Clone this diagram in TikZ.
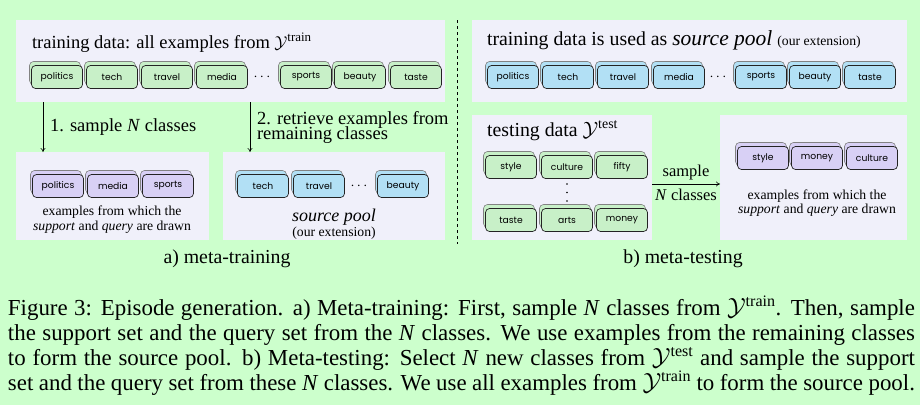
\documentclass[tikz,border=0pt]{standalone}
\usepackage{fontspec}
\setmainfont{Liberation Serif}
\newfontfamily\cardfont{Poppins}
\usetikzlibrary{shadows,arrows.meta}
\definecolor{bgc}{RGB}{204,255,204}
\definecolor{panelc}{RGB}{240,240,250}
\definecolor{gfill}{RGB}{200,240,200}
\definecolor{bfill}{RGB}{178,224,245}
\definecolor{pfill}{RGB}{216,208,245}
\definecolor{cardline}{RGB}{35,35,35}
\definecolor{shline}{RGB}{130,130,130}
\newcommand\fsTitle{\fontsize{18.5}{20}\selectfont}
\newcommand\fsBig{\fontsize{19.8}{21}\selectfont}
\newcommand\fsMid{\fontsize{18}{20}\selectfont}
\newcommand\fsArr{\fontsize{16.5}{18}\selectfont}
\newcommand\fsSmall{\fontsize{13.7}{15}\selectfont}
\newcommand\fsCap{\fontsize{22.9}{25}\selectfont}
\tikzset{
  panel/.style={fill=panelc, draw=none, inner sep=0pt, outer sep=0pt},
  card/.style={draw=cardline, line width=0.7pt, rounded corners=4pt,
    minimum width=51pt, minimum height=23pt, inner sep=0pt,
    font=\cardfont\fontsize{9.2}{11}\selectfont,
    copy shadow={shadow xshift=-2pt, shadow yshift=4pt, draw=shline, line width=0.6pt}},
  gcard/.style={card, fill=gfill},
  bcard/.style={card, fill=bfill},
  pcard/.style={card, fill=pfill},
  txt/.style={inner sep=0pt, outer sep=0pt},
  arr/.style={-{To[length=4pt,width=5pt]}, line width=0.6pt},
  dots/.style={inner sep=0pt, font=\fontsize{14}{14}\selectfont}
}
\begin{document}
\begin{tikzpicture}[x=1pt,y=-1pt]
\useasboundingbox (0,0) rectangle (920,405);
\fill[bgc] (0,0) rectangle (920,405);

% panels
\node[panel, minimum width=429pt, minimum height=82pt] (p1) at (230.5,61) {};
\node[panel, minimum width=193pt, minimum height=88pt] (p2) at (112.5,196) {};
\node[panel, minimum width=222pt, minimum height=88pt] (p3) at (334,196) {};
\node[panel, minimum width=435pt, minimum height=82pt] (p4) at (689.5,61) {};
\node[panel, minimum width=180pt, minimum height=125pt] (p5) at (562,177.5) {};
\node[panel, minimum width=187pt, minimum height=125pt] (p6) at (813.5,177.5) {};

% dashed separator
\coordinate (sepT) at (457,20);
\coordinate (sepB) at (457,244);
\draw[dash pattern=on 3pt off 3pt, line width=0.5pt] (sepT) -- (sepB);

% panel 1
\node[txt, anchor=base west, font=\fsTitle] (t1) at (32,48) {training data: all examples from $\mathcal{Y}$\textsuperscript{train}};
\node[gcard] (a1) at (57,77) {politics};
\node[gcard] (a2) at (112,77) {tech};
\node[gcard] (a3) at (167,77) {travel};
\node[gcard] (a4) at (222,77) {media};
\node[dots] (ad) at (262,77) {$\cdots$};
\node[gcard] (a5) at (306,77) {sports};
\node[gcard] (a6) at (360,77) {beauty};
\node[gcard] (a7) at (416,77) {taste};

% arrows a
\coordinate (x1) at (43,0);
\coordinate (x2) at (250,0);
\draw[arr] (p1.south -| x1) -- (p2.north -| x1);
\draw[arr] (p1.south -| x2) -- (p3.north -| x2);
\node[txt, anchor=base west, font=\fsTitle] (l1) at (50,131) {1. sample \textit{N} classes};
\node[txt, anchor=north west, align=left, font=\fsTitle] (l2) at (257,111.5) {2. retrieve examples from\\[-5.5pt]remaining classes};

% panel 2
\node[pcard] (b1) at (58,186) {politics};
\node[pcard] (b2) at (113,186) {media};
\node[pcard] (b3) at (168,186) {sports};
\node[txt, anchor=base, font=\fsSmall] (bt1) at (112,215) {examples from which the};
\node[txt, anchor=base, font=\fsSmall] (bt2) at (112,230) {\textit{support} and \textit{query} are drawn};

% panel 3
\node[bcard] (c1) at (263,186) {tech};
\node[bcard] (c2) at (319,186) {travel};
\node[dots] (cd) at (359,186) {$\cdots$};
\node[bcard] (c3) at (403,186) {beauty};
\node[txt, anchor=base, font=\fsMid] (ct1) at (334,221) {\textit{source pool}};
\node[txt, anchor=base, font=\fsSmall] (ct2) at (334,236) {(our extension)};

\node[txt, anchor=base, font=\fsBig] (capA) at (227,263) {a) meta-training};

% panel 4
\node[txt, anchor=base west, font=\fsBig] (t4) at (487,45) {training data is used as {\fontsize{21.5}{22}\selectfont\textit{source pool}} {\fsSmall(our extension)}};
\node[bcard] (d1) at (513,77) {politics};
\node[bcard] (d2) at (568,77) {tech};
\node[bcard] (d3) at (623,77) {travel};
\node[bcard] (d4) at (679,77) {media};
\node[dots] (dd) at (718,77) {$\cdots$};
\node[bcard] (d5) at (761,77) {sports};
\node[bcard] (d6) at (815,77) {beauty};
\node[bcard] (d7) at (870,77) {taste};

% panel 5
\node[txt, anchor=base west, font=\fsBig] (t5) at (487,136) {testing data $\mathcal{Y}$\textsuperscript{test}};
\node[gcard] (e1) at (511,167) {style};
\node[gcard] (e2) at (567,167) {culture};
\node[gcard] (e3) at (622,167) {fifty};
\fill (567,184) circle (0.9pt) (567,192.5) circle (0.9pt) (567,201) circle (0.9pt);
\node[gcard] (e4) at (511,220) {taste};
\node[gcard] (e5) at (567,220) {arts};
\node[gcard] (e6) at (622,220) {money};

% arrow b
\coordinate (yb) at (0,184);
\draw[arr] (p5.east |- yb) -- (p6.west |- yb);
\node[txt, anchor=base, font=\fsArr] (s1) at (686,176) {sample};
\node[txt, anchor=base, font=\fsArr] (s2) at (686,200) {\textit{N} classes};

% panel 6
\node[pcard] (f1) at (763,158) {style};
\node[pcard] (f2) at (817,158) {money};
\node[pcard] (f3) at (872,158) {culture};
\node[txt, anchor=base, font=\fsSmall] (ft1) at (817,199) {examples from which the};
\node[txt, anchor=base, font=\fsSmall] (ft2) at (817,213) {\textit{support} and \textit{query} are drawn};

\node[txt, anchor=base, font=\fsBig] (capB) at (683,263) {b) meta-testing};

% caption
\node[txt, anchor=north west, text width=907pt, align=justify, font=\fsCap] (cap) at (8,296)
{Figure 3: Episode generation. a) Meta-training: First, sample \textit{N} classes from $\mathcal{Y}$\textsuperscript{train}. Then, sample\linebreak
the support set and the query set from the \textit{N} classes. We use examples from the remaining classes\linebreak
to form the source pool. b) Meta-testing: Select \textit{N} new classes from $\mathcal{Y}$\textsuperscript{test} and sample the support\linebreak
set and the query set from these \textit{N} classes. We use all examples from $\mathcal{Y}$\textsuperscript{train} to form the source pool.};
\end{tikzpicture}
\end{document}
